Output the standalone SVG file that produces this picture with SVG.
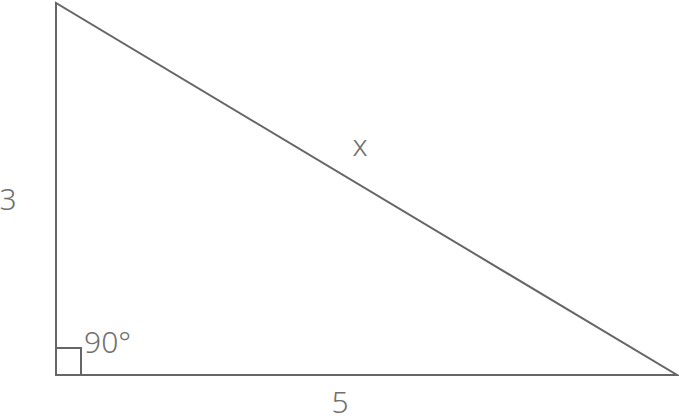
<svg xmlns="http://www.w3.org/2000/svg" width="679" height="416" viewBox="0 0 679 416">
<style>
.ln{fill:none;stroke:#666;stroke-width:2;stroke-linejoin:miter}
.lb{font-family:"Noto Sans","Liberation Sans",sans-serif;font-weight:300;font-size:30px;fill:#707070}
</style>
<rect width="679" height="416" fill="#fff"/>
<g id="triangle">
<polygon class="ln" points="56,3 56,375 677,375"/>
<rect class="ln" x="56" y="348" width="25" height="27"/>
</g>
<g id="labels">
<text class="lb" x="8" y="210" text-anchor="middle">3</text>
<text class="lb" x="360" y="156" text-anchor="middle">x</text>
<text class="lb" x="340" y="413" text-anchor="middle">5</text>
<text class="lb" x="84" y="353">90°</text>
</g>
</svg>
